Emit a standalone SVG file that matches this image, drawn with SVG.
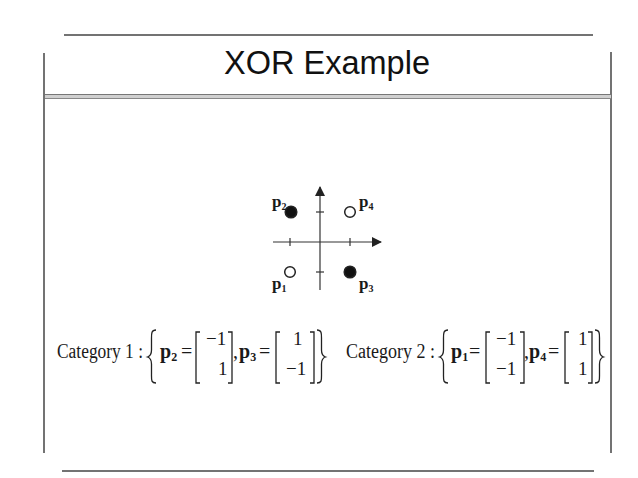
<svg xmlns="http://www.w3.org/2000/svg" width="638" height="478" viewBox="0 0 638 478">
<defs>
<style>
.frame{stroke:#444;stroke-width:1.5;fill:none}
.title{font-family:"Liberation Sans",Arial,sans-serif;font-size:33px;fill:#111}
.serif{font-family:"Liberation Serif","Times New Roman",serif;fill:#1a1a1a}
.cat{font-size:20px}
.ent{font-size:19px}
.bp{font-weight:bold;font-size:20px}
.sub{font-size:12px}
.lp{font-weight:bold;font-size:17px}
.lsub{font-size:10px}
.br{stroke:#222;stroke-width:1.3;fill:none}
.axis{stroke:#333;stroke-width:1.2;fill:none}
.pt{stroke:#222;stroke-width:1.5}
</style>
<marker id="ah" markerWidth="10" markerHeight="10" refX="9" refY="5" orient="auto" markerUnits="userSpaceOnUse">
<path d="M0,0 L10,5 L0,10 Z" fill="#222"/>
</marker>
</defs>
<rect width="638" height="478" fill="#fff"/>
<g id="frame">
<line class="frame" x1="64" y1="35" x2="593" y2="35"/>
<line class="frame" x1="44" y1="53" x2="44" y2="453"/>
<line class="frame" x1="611" y1="52" x2="611" y2="453"/>
<rect x="45" y="94" width="566" height="5" fill="#d0d0d0"/>
<line x1="45" y1="94.5" x2="611" y2="94.5" stroke="#777" stroke-width="1"/>
<line x1="45" y1="98.5" x2="611" y2="98.5" stroke="#888" stroke-width="1"/>
<line class="frame" x1="62" y1="471" x2="594" y2="471"/>
</g>
<g id="title">
<text class="title" x="224" y="74" textLength="206" lengthAdjust="spacingAndGlyphs">XOR Example</text>
</g>
<g id="connectors">
<line class="axis" x1="320" y1="290" x2="320" y2="187" marker-end="url(#ah)"/>
<line class="axis" x1="273" y1="242" x2="381" y2="242" marker-end="url(#ah)"/>
<line class="axis" x1="290" y1="238" x2="290" y2="246"/>
<line class="axis" x1="350" y1="238" x2="350" y2="246"/>
<line class="axis" x1="316" y1="212" x2="324" y2="212"/>
<line class="axis" x1="316" y1="272" x2="324" y2="272"/>
</g>
<g id="p2">
<circle class="pt" cx="291" cy="212" r="5.8" fill="#111"/>
<text class="serif lp" x="272" y="207">p<tspan class="lsub" dy="3">2</tspan></text>
</g>
<g id="p4">
<circle class="pt" cx="350" cy="212" r="5.3" fill="#fff"/>
<text class="serif lp" x="359" y="207">p<tspan class="lsub" dy="3">4</tspan></text>
</g>
<g id="p1">
<circle class="pt" cx="290" cy="272" r="5.3" fill="#fff"/>
<text class="serif lp" x="272" y="289">p<tspan class="lsub" dy="3">1</tspan></text>
</g>
<g id="p3">
<circle class="pt" cx="350" cy="272" r="5.8" fill="#111"/>
<text class="serif lp" x="359" y="289">p<tspan class="lsub" dy="3">3</tspan></text>
</g>
<g id="category1">
<text class="serif cat" x="57" y="358" textLength="86" lengthAdjust="spacingAndGlyphs">Category 1 :</text>
<path class="br" d="M156,330 C151,330 151.5,334 151.5,340 L151.5,350 C151.5,354 150.5,356 147.5,357 C150.5,358 151.5,360 151.5,364 L151.5,374 C151.5,380 151,383 156,383"/>
<text class="serif bp" x="160" y="358">p<tspan class="sub" dy="3">2</tspan></text>
<text class="serif cat" x="181" y="358">=</text>
<path class="br" d="M200,332 H196 V383 H200"/>
<text class="serif ent" x="206" y="345">−1</text>
<text class="serif ent" x="218" y="375">1</text>
<path class="br" d="M228,332 H232 V383 H228"/>
<text class="serif cat" x="233" y="358">,</text>
<text class="serif bp" x="239" y="358">p<tspan class="sub" dy="3">3</tspan></text>
<text class="serif cat" x="259" y="358">=</text>
<path class="br" d="M280,332 H276 V383 H280"/>
<text class="serif ent" x="293" y="345">1</text>
<text class="serif ent" x="286" y="375">−1</text>
<path class="br" d="M310,332 H314 V383 H310"/>
<path class="br" d="M317,330 C322,330 321.5,334 321.5,340 L321.5,350 C321.5,354 322.5,356 325.5,357 C322.5,358 321.5,360 321.5,364 L321.5,374 C321.5,380 322,383 317,383"/>
</g>
<g id="category2">
<text class="serif cat" x="346" y="358" textLength="89" lengthAdjust="spacingAndGlyphs">Category 2 :</text>
<path class="br" d="M448,330 C443,330 443.5,334 443.5,340 L443.5,350 C443.5,354 442.5,356 439.5,357 C442.5,358 443.5,360 443.5,364 L443.5,374 C443.5,380 443,383 448,383"/>
<text class="serif bp" x="451" y="358">p<tspan class="sub" dy="3">1</tspan></text>
<text class="serif cat" x="469" y="358">=</text>
<path class="br" d="M490,332 H486 V383 H490"/>
<text class="serif ent" x="496" y="345">−1</text>
<text class="serif ent" x="496" y="375">−1</text>
<path class="br" d="M520,332 H524 V383 H520"/>
<text class="serif cat" x="524" y="358">,</text>
<text class="serif bp" x="529" y="358">p<tspan class="sub" dy="3">4</tspan></text>
<text class="serif cat" x="548" y="358">=</text>
<path class="br" d="M569,332 H565 V383 H569"/>
<text class="serif ent" x="578" y="345">1</text>
<text class="serif ent" x="578" y="375">1</text>
<path class="br" d="M588,332 H592 V383 H588"/>
<path class="br" d="M595,330 C600,330 599.5,334 599.5,340 L599.5,350 C599.5,354 600.5,356 603.5,357 C600.5,358 599.5,360 599.5,364 L599.5,374 C599.5,380 600,383 595,383"/>
</g>
</svg>
